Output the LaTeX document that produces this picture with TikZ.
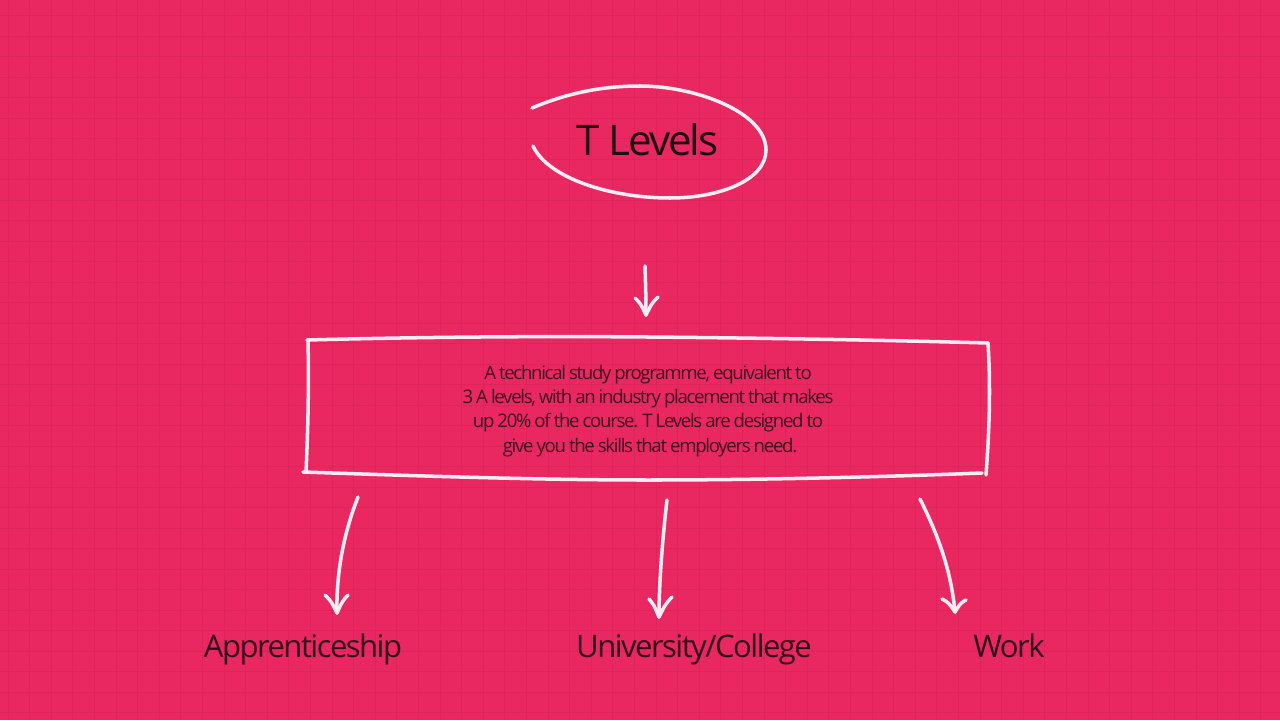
\documentclass[tikz,border=0pt]{standalone}
\usepackage{fontspec}
\setmainfont{Open Sans}[LetterSpace=-5]
\newfontfamily\summaryFont{Open Sans}[LetterSpace=-7, WordSpace=0.85]
\usepackage{tikz}
\usetikzlibrary{calc}
\definecolor{pageColor}{RGB}{233,39,97}
\definecolor{gridColor}{RGB}{223,36,91}
\definecolor{strokeColor}{RGB}{255,236,242}
\definecolor{titleColor}{RGB}{30,14,20}
\definecolor{bodyColor}{RGB}{62,14,34}
\definecolor{labelColor}{RGB}{50,12,28}
\tikzstyle{board} = [x = .02cm, y = -.02cm]
\tikzstyle{gridLine} = [color=gridColor, line width=.45pt]
\tikzstyle{penLine} = [color=strokeColor, line width=2pt, line cap=round, line join=round]
\tikzstyle{titleText} = [font=\fontsize{24}{28}\selectfont, text=titleColor, anchor=base, inner sep=0pt]
\tikzstyle{bodyText} = [font=\summaryFont\fontsize{10.6}{13.85}\selectfont, text=bodyColor, align=center, anchor=base, inner sep=0pt]
\tikzstyle{choiceText} = [font=\fontsize{17.7}{21}\selectfont, text=labelColor, anchor=base, inner sep=0pt]
\newcommand{\gridLines}{
  \foreach \column in {0,...,59} {
    \draw [gridLine] (8 + 21.6 * \column, 0) -- + (0,720);
  }
  \foreach \row in {0,...,34} {
    \draw [gridLine] (0, 15.7 + 20.5 * \row) -- + (1280,0);
  }
}
% #1 start, #2 and #3 bends, #4 tip, #5 and #6 barbs
\newcommand{\penArrow}[6]{
  \draw [penLine] (#1) .. controls (#2) and (#3) .. (#4);
  \draw [penLine] (#5) .. controls ($(#4)!.5!(#5)+(0,-3)$) .. (#4) .. controls ($(#4)!.5!(#6)+(0,-3)$) .. (#6);
}
\begin{document}
\begin{tikzpicture}[board]
  \useasboundingbox (0,0) rectangle (1280,720);
  \fill [pageColor] (0,0) rectangle (1280,720);
  \gridLines

  \node [titleText] (title) at (647.5,155) {T Levels};
  \node [bodyText] (summaryA) at (648,379) {A technical study programme, equivalent to};
  \node [bodyText] (summaryB) at (648,403) {3 A levels, with an industry placement that makes};
  \node [bodyText] (summaryC) at (648,427.5) {up 20\% of the course. T Levels are designed to};
  \node [bodyText] (summaryD) at (650,452) {give you the skills that employers need.};
  \node [choiceText] (apprenticeship) at (303,657) {Apprenticeship};
  \node [choiceText] (university) at (694,657) {University/College};
  \node [choiceText] (work) at (1009,657) {Work};

  % ring round the title
  \draw [penLine] (532,108) .. controls (565,94) and (600,86) .. (640,86) .. controls (695,86) and (766,112) .. (766,150) .. controls (766,180) and (720,198) .. (670,198) .. controls (610,198) and (548,178) .. (533,146);

  % box round the summary
  \draw [penLine] (307,340) .. controls (420,337) and (540,336) .. (648,337) .. controls (760,338) and (880,340) .. (988,343);
  \draw [penLine] (308,340) .. controls (309,385) and (308,430) .. (306,472);
  \draw [penLine] (303,472) .. controls (420,476) and (540,480) .. (648,480) .. controls (760,480) and (880,477) .. (982,473);
  \draw [penLine] (988,343) .. controls (991,390) and (989,435) .. (986,475);

  \coordinate (topStart) at (645,266);
  \coordinate (topBendA) at (645.5,282);
  \coordinate (topBendB) at (646,298);
  \coordinate (topTip) at (646,315);
  \coordinate (topLeft) at (635,298);
  \coordinate (topRight) at (658,297);
  \penArrow{topStart}{topBendA}{topBendB}{topTip}{topLeft}{topRight}

  \coordinate (leftStart) at (358,497);
  \coordinate (leftBendA) at (345,530);
  \coordinate (leftBendB) at (336,570);
  \coordinate (leftTip) at (337,613);
  \coordinate (leftLeft) at (325,595);
  \coordinate (leftRight) at (348,595);
  \penArrow{leftStart}{leftBendA}{leftBendB}{leftTip}{leftLeft}{leftRight}

  \coordinate (midStart) at (667,500);
  \coordinate (midBendA) at (663,535);
  \coordinate (midBendB) at (659,580);
  \coordinate (midTip) at (659,617);
  \coordinate (midLeft) at (649,599);
  \coordinate (midRight) at (672,597);
  \penArrow{midStart}{midBendA}{midBendB}{midTip}{midLeft}{midRight}

  \coordinate (rightStart) at (920,499);
  \coordinate (rightBendA) at (938,535);
  \coordinate (rightBendB) at (951,570);
  \coordinate (rightTip) at (955,612);
  \coordinate (rightLeft) at (942,599);
  \coordinate (rightRight) at (966,600);
  \penArrow{rightStart}{rightBendA}{rightBendB}{rightTip}{rightLeft}{rightRight}
\end{tikzpicture}
\end{document}
